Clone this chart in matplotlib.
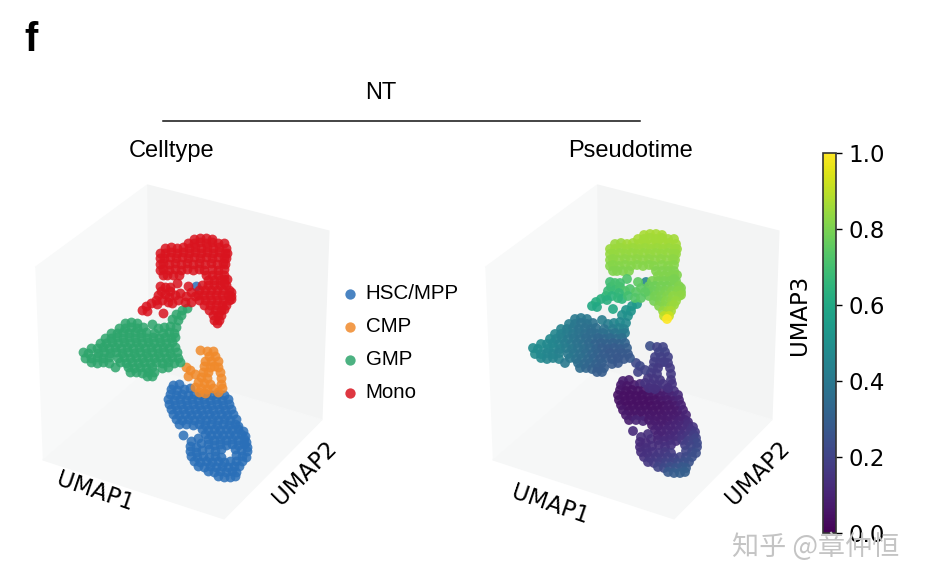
import matplotlib
matplotlib.use('Agg')
import matplotlib.pyplot as plt
import numpy as np
from matplotlib.lines import Line2D

W, H = 926, 586

# points (x px, y px, pseudotime)
hsc = [
    (173,385,.08),(179,384,.08),(171,389,.07),(177,390,.06),(184,389,.07),(190,388,.1),
    (170,394,.06),(176,395,.05),(182,394,.05),(188,395,.05),(194,394,.06),(200,395,.09),(206,394,.1),(212,395,.1),(218,394,.12),(224,395,.14),
    (168,399,.05),(174,400,.04),(180,399,.04),(186,400,.04),(192,399,.04),(198,400,.05),(204,399,.06),(210,400,.07),(216,399,.08),(222,400,.1),(228,399,.12),
    (169,404,.05),(175,405,.04),(181,404,.04),(187,405,.04),(193,404,.04),(199,405,.04),(205,404,.05),(211,405,.06),(217,404,.07),(223,405,.08),(229,404,.1),
    (171,409,.05),(177,410,.04),(183,409,.04),(189,410,.04),(195,409,.04),(201,410,.04),(207,409,.05),(213,410,.05),(219,409,.06),(225,410,.07),(231,409,.09),
    (173,414,.06),(179,415,.05),(185,414,.05),(191,415,.05),(197,414,.05),(203,415,.05),(209,414,.05),(215,415,.06),(221,414,.06),(227,415,.07),(233,414,.09),
    (176,419,.07),(182,420,.06),(188,419,.06),(194,420,.06),(200,419,.06),(206,420,.06),(212,419,.06),(218,420,.07),(224,419,.07),(230,420,.08),(236,419,.1),
    (179,424,.08),(186,424,.1),(193,425,.1),(199,424,.07),(205,425,.07),(211,424,.07),(217,425,.07),(223,424,.08),(229,425,.09),(235,424,.1),(238,426,.12),
    (202,429,.08),(208,430,.08),(214,429,.08),(220,430,.09),(226,429,.1),(232,430,.11),(238,429,.13),(243,431,.15),
    (205,434,.09),(211,435,.09),(217,434,.1),(223,435,.1),(229,434,.11),(235,435,.13),(241,434,.15),(245,436,.17),
    (183,435,.12),(191,441,.13),(198,438,.13),(201,443,.13),
    (208,439,.1),(214,440,.1),(220,439,.11),(226,440,.12),(232,439,.14),(238,440,.16),(244,439,.18),(246,442,.2),
    (190,446,.12),(196,447,.12),(208,444,.11),(214,445,.12),(220,444,.12),(226,445,.13),(232,444,.15),(238,445,.18),(244,444,.2),(247,447,.22),
    (190,451,.12),(196,452,.13),(202,450,.13),(209,449,.13),(215,451,.14),(221,449,.14),(235,449,.18),(241,450,.2),(247,451,.22),
    (191,456,.13),(197,457,.14),(203,456,.14),(209,457,.15),(215,456,.16),(221,457,.17),(236,455,.2),(242,456,.22),(246,457,.24),
    (194,461,.14),(200,462,.15),(206,461,.16),(212,462,.17),(218,461,.18),(224,462,.19),(230,461,.2),(236,461,.22),(242,461,.24),
    (198,466,.16),(204,467,.17),(210,466,.18),(216,467,.2),(222,466,.21),(228,467,.23),(234,466,.24),(239,466,.25),
    (208,471,.2),(214,472,.22),(220,471,.24),(226,472,.26),(232,471,.27),(236,472,.28),
    (218,476,.27),(224,477,.29),(230,477,.3),(235,476,.3),
]
cmp_ = [
    (200,350,.24),(207,351,.2),(213,351,.2),(209,356,.2),(215,356,.2),(205,361,.19),(211,361,.19),(218,361,.19),
    (204,366,.18),(210,367,.18),(214,366,.18),(218,367,.18),(203,372,.18),(208,372,.17),(220,372,.17),(201,377,.17),(207,378,.17),
    (221,378,.17),(198,382,.16),(204,383,.16),(210,384,.16),(221,384,.16),(195,387,.15),(201,388,.15),(207,389,.15),
    (213,388,.15),(222,388,.15),(199,392,.14),(205,393,.14),(218,392,.14),(186,367,.22),(190,370,.22),(195,374,.2),(188,376,.2),
]
gmp = [
    (182,310,.53),(187,308,.54),(176,314,.52),(181,315,.52),(172,319,.5),(178,320,.5),
    (125,323,.4),(131,322,.4),(137,323,.4),(152,324,.42),
    (119,328,.42),(125,328,.4),(131,327,.38),(137,328,.38),(143,327,.38),(158,328,.42),(164,327,.45),(170,326,.47),(176,327,.47),
    (111,333,.44),(117,333,.42),(123,332,.4),(129,333,.38),(135,332,.37),(141,333,.36),(146,332,.36),(154,333,.38),(163,333,.42),(169,332,.44),(174,333,.44),
    (105,338,.46),(111,338,.44),(117,337,.42),(123,338,.4),(129,337,.38),(135,338,.36),(141,337,.35),(147,338,.35),(153,337,.36),(159,338,.37),(165,337,.39),(171,338,.4),(175,337,.41),
    (100,343,.47),(106,343,.45),(112,342,.43),(118,343,.41),(124,342,.39),(130,343,.37),(136,342,.35),(142,343,.34),(148,342,.33),(154,343,.33),(160,342,.34),(166,343,.35),(172,342,.36),
    (91,348,.48),(97,348,.47),(103,347,.46),(109,348,.44),(115,347,.42),(121,348,.4),(127,347,.38),(133,348,.36),(139,347,.34),(145,348,.32),(151,347,.31),(157,348,.31),(163,347,.31),(169,348,.31),(175,347,.32),
    (83,352,.48),(88,353,.48),(98,353,.47),(104,352,.46),(110,353,.44),(116,352,.42),(122,353,.4),(128,352,.38),(134,353,.36),(140,352,.34),(146,353,.32),(152,352,.3),(158,353,.29),(164,352,.29),(170,353,.29),(177,352,.3),
    (85,358,.48),(91,358,.47),(97,357,.46),(103,358,.45),(109,357,.43),(118,358,.41),(124,357,.39),(130,358,.37),(136,357,.35),(142,358,.33),(148,357,.31),(154,358,.29),(160,357,.28),(166,358,.28),(172,357,.28),(178,358,.28),
    (91,362,.47),(97,363,.46),(103,362,.45),(109,363,.44),(120,362,.4),(126,363,.38),(132,362,.36),(138,363,.34),(144,362,.32),(150,363,.3),(156,362,.29),(162,363,.28),(168,362,.27),(174,363,.27),(180,362,.27),
    (115,367,.4),(128,367,.36),(134,368,.34),(140,367,.33),(146,368,.31),(152,367,.3),(162,368,.28),(168,367,.27),
    (130,372,.35),(136,372,.33),(142,373,.31),(148,372,.3),(154,372,.29),(147,376,.29),(152,376,.29),
]
mono = [
    (194,239,.87),(200,238,.87),(206,238,.87),(212,239,.87),
    (188,243,.87),(194,243,.86),(200,242,.86),(206,243,.86),(212,242,.86),(218,243,.86),(224,243,.86),
    (165,248,.85),(171,247,.85),(177,248,.86),(183,247,.86),(189,248,.86),(195,247,.86),(201,248,.86),(207,247,.86),(213,248,.86),(219,247,.86),(226,248,.86),
    (160,253,.85),(165,253,.85),(171,252,.85),(177,253,.85),(183,252,.85),(189,253,.85),(195,252,.85),(201,253,.85),(207,252,.85),(213,253,.85),(219,252,.85),(225,253,.85),(227,253,.85),
    (160,258,.84),(164,258,.84),(170,257,.84),(176,258,.84),(182,257,.84),(188,258,.84),(194,257,.84),(200,258,.84),(206,257,.84),(212,258,.84),(218,257,.84),(224,258,.84),(226,258,.84),
    (160,264,.83),(163,263,.83),(169,264,.83),(175,263,.83),(181,264,.83),(187,263,.83),(193,264,.83),(199,263,.83),(205,264,.83),(211,263,.83),(217,264,.83),(223,263,.83),(225,264,.83),
    (160,270,.82),(163,269,.82),(169,270,.82),(175,269,.82),(181,270,.82),(187,269,.82),(193,270,.82),(199,269,.82),(204,270,.82),(212,269,.82),(218,270,.82),(224,269,.82),
    (163,275,.81),(167,275,.81),(173,275,.81),(179,275,.81),(206,275,.81),(212,275,.81),(218,275,.81),(224,275,.81),
    (208,280,.81),(214,280,.81),(220,280,.81),(224,279,.81),(227,279,.81),
    (202,285,.8),(208,285,.8),(214,285,.8),(220,285,.8),(226,285,.8),(224,283,.8),
    (199,290,.78),(205,290,.78),(211,290,.79),(217,290,.79),(223,290,.8),(229,290,.81),(231,292,.81),
    (198,295,.77),(204,295,.78),(210,295,.79),(216,295,.8),(222,295,.81),(228,295,.82),(231,296,.82),
    (199,300,.77),(205,300,.79),(211,300,.8),(217,300,.81),(223,300,.83),(229,300,.83),(231,299,.83),
    (204,305,.79),(210,305,.8),(216,305,.82),(222,305,.83),(226,305,.84),
    (209,310,.81),(215,310,.82),(221,310,.84),(224,309,.85),
    (213,315,.84),(218,315,.86),(221,315,.87),(214,320,.9),(219,320,.92),(217,323,1.0),
    (142,310,.6),(146,306,.62),(151,303,.63),(147,311,.6),(156,300,.65),(158,295,.67),(161,291,.68),(160,286,.69),
    (165,287,.7),(165,294,.68),(170,291,.7),(175,295,.72),(180,293,.72),(186,296,.74),(191,292,.75),(195,296,.75),
    (169,297,.67),(162,300,.65),(157,304,.63),(177,283,.72),(170,287,.7),(188,286,.75),(163,313,.6),(168,302,.66),
    (172,303,.65),(178,300,.7),(185,302,.73),(191,302,.74),
]
stray_hsc = [(196,286,.45)]

hsc_x, hsc_y, hsc_t = np.array(hsc + stray_hsc).T
cmp_x, cmp_y, cmp_t = np.array(cmp_).T
gmp_x, gmp_y, gmp_t = np.array(gmp).T
mono_x, mono_y, mono_t = np.array(mono).T

names = ['HSC/MPP', 'CMP', 'GMP', 'Mono']
colors = ['#2a6fb8', '#f08a2b', '#2ea56c', '#d9141f']
groups = [(hsc_x, hsc_y, hsc_t), (cmp_x, cmp_y, cmp_t), (gmp_x, gmp_y, gmp_t), (mono_x, mono_y, mono_t)]
cbar_ticks = [0.0, 0.2, 0.4, 0.6, 0.8, 1.0]

plt.rcParams['font.family'] = ['Liberation Sans', 'DejaVu Sans']
fig = plt.figure(figsize=(W / 100, H / 100), dpi=100)


def rect(x0, y0, x1, y1):
    # pixel box (top-left origin) to figure fractions
    return [x0 / W, 1 - y1 / H, (x1 - x0) / W, (y1 - y0) / H]


def box(x0):
    ax = fig.add_axes(rect(x0 - 21, 137, x0 + 379, 567), projection='3d')
    ax.patch.set_alpha(0)
    ax.view_init(elev=30, azim=-60)
    ax.set_box_aspect((1, 1, 1.05), zoom=0.895)
    ax.set_xticks([])
    ax.set_yticks([])
    ax.set_zticks([])
    ax.grid(False)
    for axis, c in zip([ax.xaxis, ax.yaxis, ax.zaxis], ['#f8f9f9', '#f3f4f4', '#f6f7f7']):
        axis.set_pane_color(c)
        axis.pane.set_edgecolor(c)
        axis.line.set_color((1, 1, 1, 0))
    return ax


box(0)
box(450)

# scatter layers sit over the boxes, same shape in both panels
left = fig.add_axes([0, 0, 1, 1])
right = fig.add_axes([450 / W, 4 / H, 1, 1])
for ax in [left, right]:
    ax.set_xlim(0, W)
    ax.set_ylim(H, 0)
    ax.axis('off')
    ax.patch.set_alpha(0)

for (x, y, t), c, name in zip(groups, colors, names):
    left.scatter(x, y, s=50, color=c, alpha=0.85, linewidths=0, label=name)
    sc = right.scatter(x, y, s=50, c=t, cmap='viridis', vmin=0, vmax=1, alpha=0.9, linewidths=0)

left.legend(loc='upper left', bbox_to_anchor=(340 / W, 1 - 284 / H), frameon=False, fontsize=14.8,
            labelspacing=0.68, handlelength=1.0, handletextpad=0.25, borderpad=0, borderaxespad=0, markerscale=1.05)

cax = fig.add_axes(rect(823, 153, 836, 533))
cb = fig.colorbar(sc, cax=cax, ticks=cbar_ticks)
cb.solids.set_alpha(1)
cb.outline.set_edgecolor('#333333')
cb.outline.set_linewidth(1.2)
cb.ax.tick_params(labelsize=16.5, length=4, width=1, pad=5)
for lab in cb.ax.get_yticklabels():
    lab.set_family('DejaVu Sans')

fig.text(31 / W, 1 - 40 / H, 'f', fontsize=29, fontweight='bold', ha='center', va='center')
fig.text(381 / W, 1 - 93 / H, 'NT', fontsize=17, ha='center', va='center')
fig.text(172 / W, 1 - 151 / H, 'Celltype', fontsize=17, ha='center', va='center')
fig.text(630 / W, 1 - 151 / H, 'Pseudotime', fontsize=17, ha='center', va='center')
fig.add_artist(Line2D([163 / W, 640 / W], [1 - 121 / H, 1 - 121 / H], color='#111111', lw=1.1))

for x, y, s, rot in [(95, 492, 'UMAP1', -19), (305, 473, 'UMAP2', 45),
                     (550, 505, 'UMAP1', -19), (758, 473, 'UMAP2', 45),
                     (800, 315, 'UMAP3', 90)]:
    fig.text(x / W, 1 - y / H, s, fontsize=16.4, family='DejaVu Sans', rotation=rot, ha='center', va='center')

fig.text(816 / W, 1 - 547 / H, '知乎 @章仲恒', fontsize=19.5, color='#c4c4c4', ha='center', va='center',
         family=['Noto Sans CJK SC', 'DejaVu Sans'], zorder=10)

fig.savefig('out.png', dpi=100)
